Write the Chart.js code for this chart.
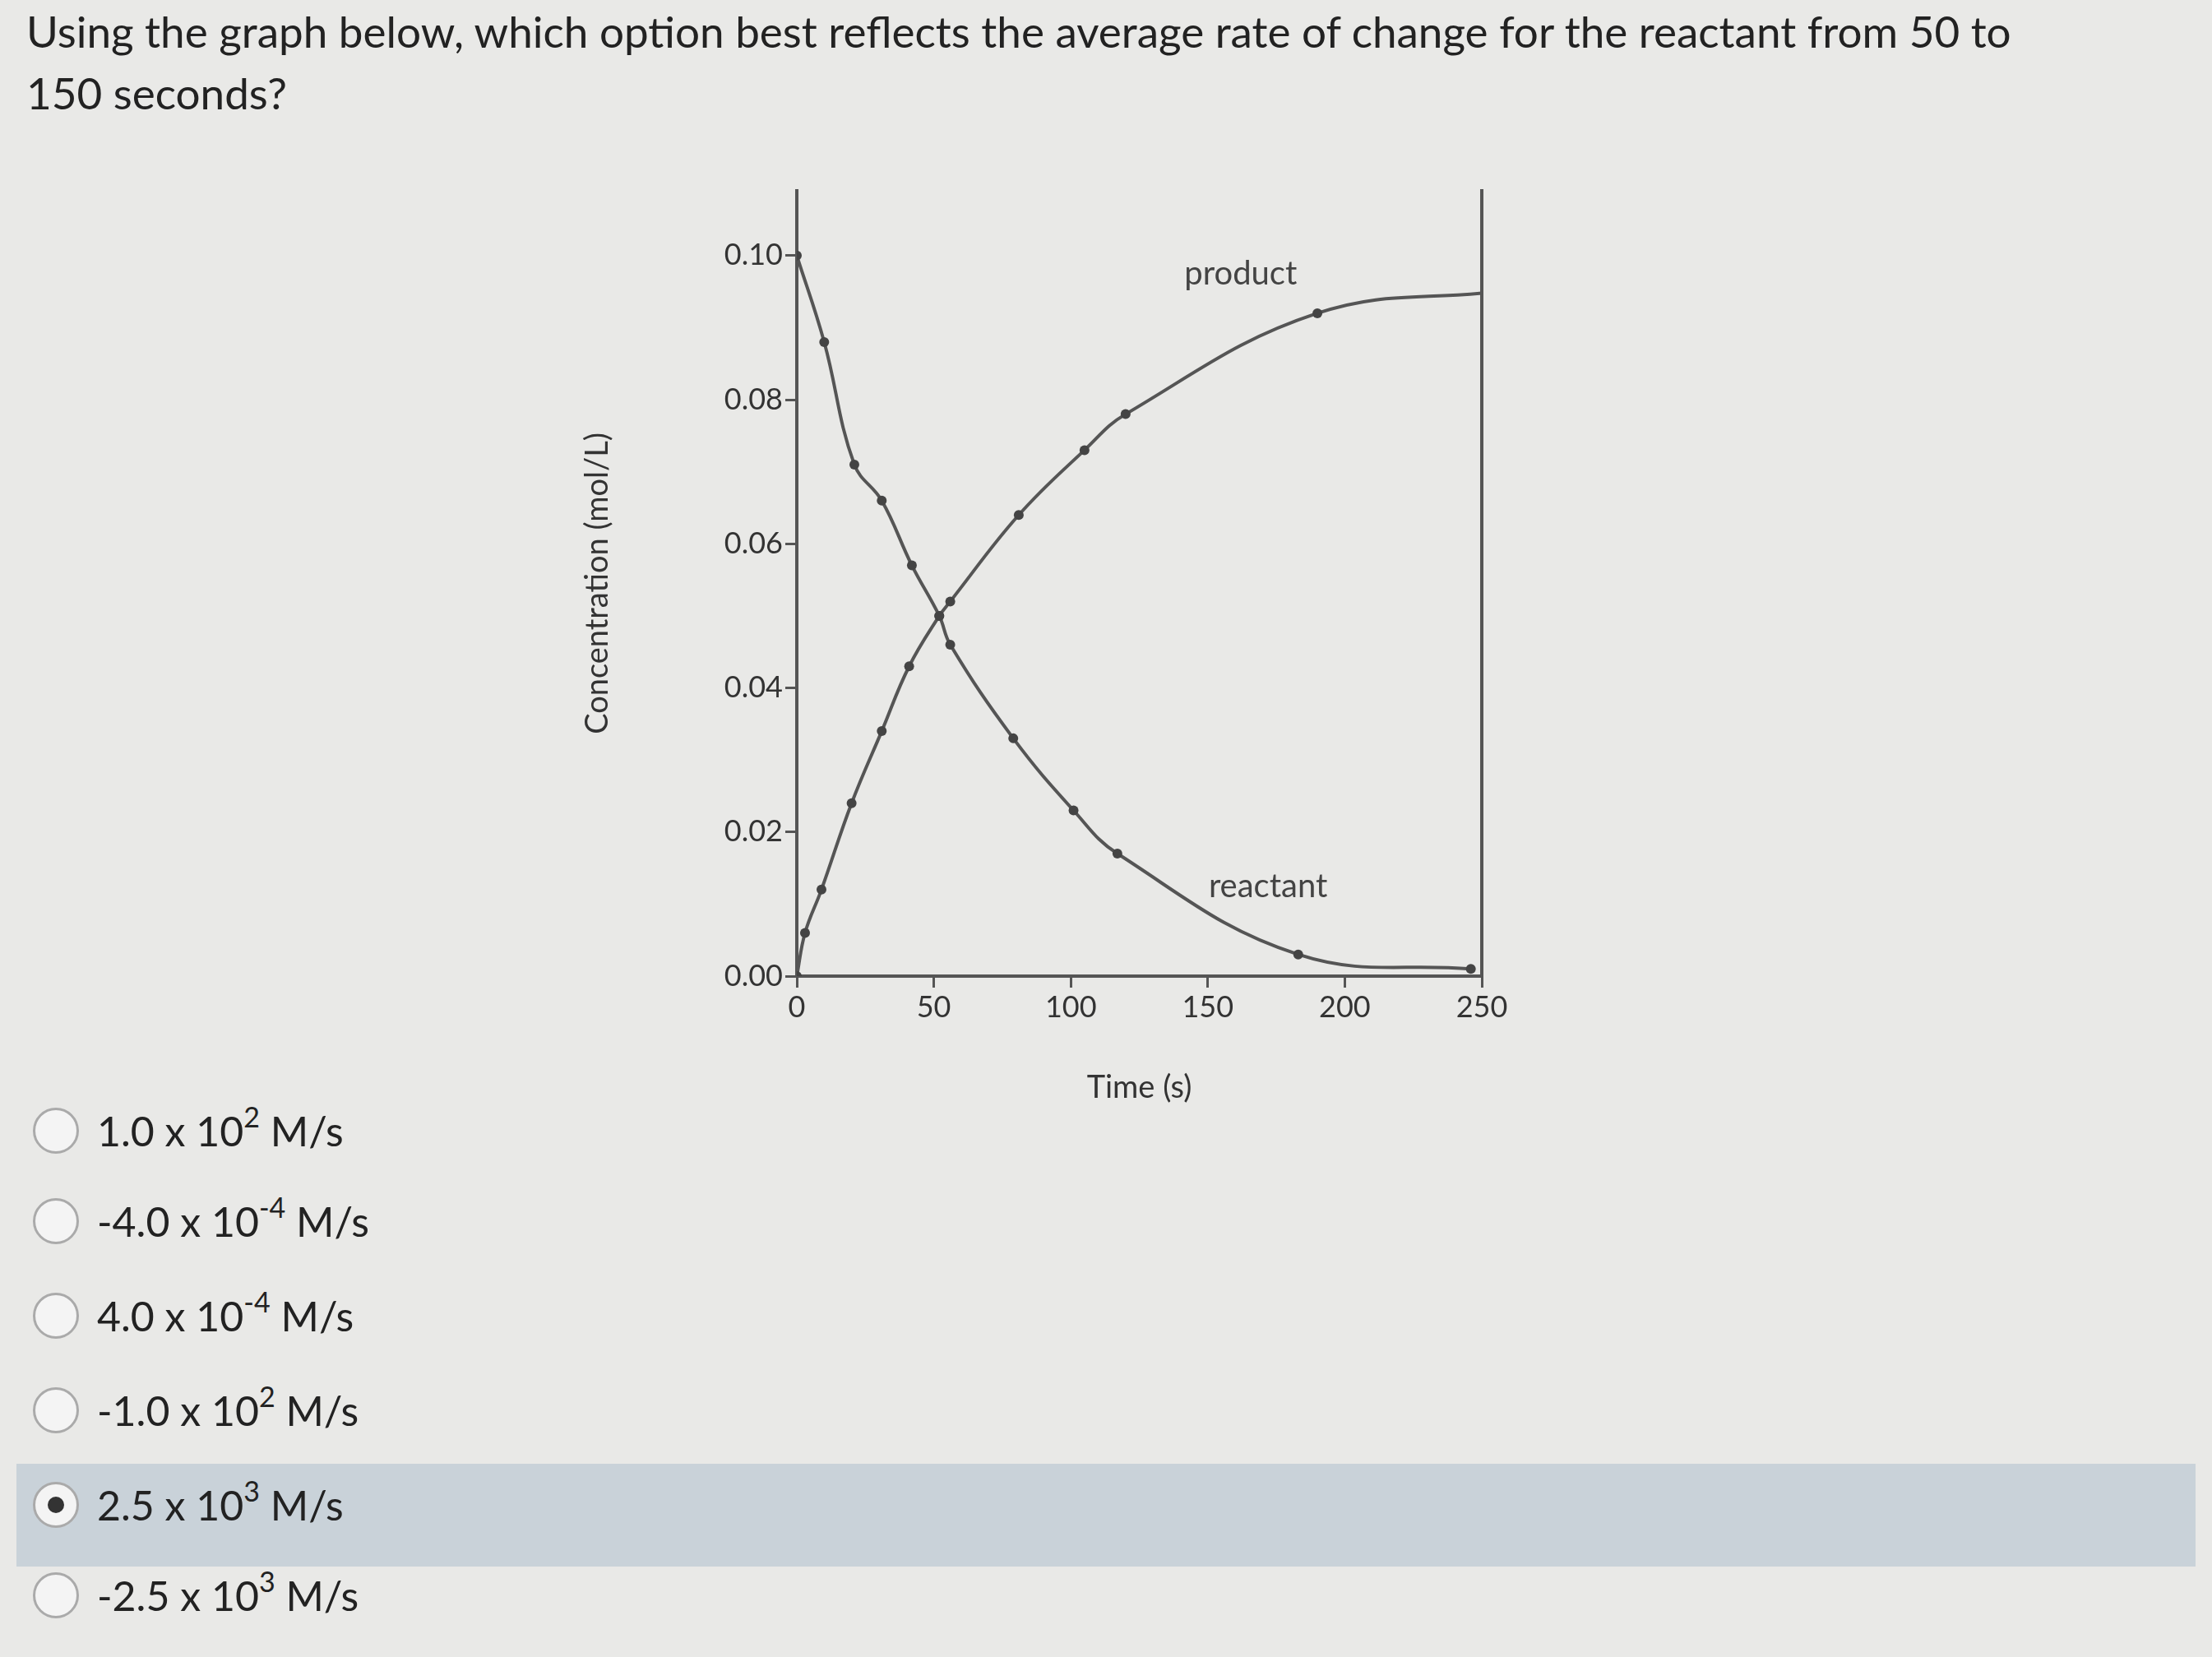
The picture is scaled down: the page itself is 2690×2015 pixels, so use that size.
<!DOCTYPE html>
<html><head><meta charset="utf-8">
<script src="https://cdn.jsdelivr.net/npm/chart.js@4/dist/chart.umd.min.js"></script>
<style>
body{margin:0;width:2690px;height:2015px;background:#e9e9e7;font-family:Lato,"Open Sans",sans-serif;position:relative;overflow:hidden;color:#222}
#q{position:absolute;left:32px;top:0px;font-size:53px;line-height:75px;width:2640px}
#wrap{position:absolute;left:700px;top:150px;width:1150px;height:1200px}
.opt{position:absolute;left:40px;font-size:50px;display:flex;align-items:center}
.opt span.r{width:56px;height:56px;border:3px solid #aaa;border-radius:50%;background:#f4f4f4;margin-right:22px;box-sizing:border-box;display:inline-block;position:relative}
.sel span.r::after{content:"";position:absolute;left:15px;top:15px;width:20px;height:20px;border-radius:50%;background:#333}
.sp{font-size:34px;position:relative;top:-18px}
#band{position:absolute;left:20px;top:1780px;width:2650px;height:125px;background:#c9d2d9}
</style></head><body>
<div id="q">Using the graph below, which option best reflects the average rate of change for the reactant from 50 to<br>150 seconds?</div>
<div id="band"></div>
<div class="opt" style="top:1345px"><span class="r"></span>1.0 x 10<span class="sp">2</span>&nbsp;M/s</div>
<div class="opt" style="top:1455px"><span class="r"></span>-4.0 x 10<span class="sp">-4</span>&nbsp;M/s</div>
<div class="opt" style="top:1570px"><span class="r"></span>4.0 x 10<span class="sp">-4</span>&nbsp;M/s</div>
<div class="opt" style="top:1685px"><span class="r"></span>-1.0 x 10<span class="sp">2</span>&nbsp;M/s</div>
<div class="opt sel" style="top:1800px"><span class="r"></span>2.5 x 10<span class="sp">3</span>&nbsp;M/s</div>
<div class="opt" style="top:1910px"><span class="r"></span>-2.5 x 10<span class="sp">3</span>&nbsp;M/s</div>
<div id="wrap"><canvas id="c" width="1150" height="1200"></canvas></div>
<script>
const times=[0,10,21,31,42,52,56,79,101,117,183,246];
const reactant=[0.100,0.088,0.071,0.066,0.057,0.050,0.046,0.033,0.023,0.017,0.003,0.001];
const productTimes=[0,3,9,20,31,41,52,56,81,105,120,190,255];
const product=[0,0.006,0.012,0.024,0.034,0.043,0.050,0.052,0.064,0.073,0.078,0.092,0.095];
const xTicks=[0,50,100,150,200,250];
const yTicks=[0,0.02,0.04,0.06,0.08,0.10];
const labelPlugin={id:'lbl',afterDatasetsDraw(ch){const c=ch.ctx,x=ch.scales.x,y=ch.scales.y;c.save();c.font='40px Lato';c.fillStyle='#444';c.textAlign='center';
c.fillText('product',x.getPixelForValue(162),y.getPixelForValue(0.096));c.fillText('reactant',x.getPixelForValue(172),y.getPixelForValue(0.011));c.restore();}};
new Chart(document.getElementById('c'),{type:'scatter',
data:{datasets:[
{data:times.map((t,i)=>({x:t,y:reactant[i]})),showLine:true,tension:0.4,borderColor:'#555',borderWidth:4,pointRadius:6,pointBackgroundColor:'#444',pointBorderWidth:0},
{data:productTimes.map((t,i)=>({x:t,y:product[i]})),showLine:true,tension:0.4,borderColor:'#555',borderWidth:4,pointRadius:6,pointBackgroundColor:'#444',pointBorderWidth:0}]},
options:{responsive:false,animation:false,devicePixelRatio:1,layout:{padding:{top:82,right:38,left:0,bottom:0}},
plugins:{legend:{display:false},tooltip:{enabled:false}},
scales:{x:{type:'linear',min:0,max:250,afterFit:s=>{s.height=163},afterBuildTicks:s=>{s.ticks=xTicks.map(v=>({value:v}))},
border:{color:'#555',width:4},grid:{display:true,drawOnChartArea:false,color:'#555',lineWidth:3,tickLength:14},
ticks:{color:'#333',font:{size:36,family:'Lato'}},title:{display:true,text:'Time (s)',color:'#333',font:{size:38,family:'Lato'}}},
y:{min:0,max:0.109,afterFit:s=>{s.width=269},afterBuildTicks:s=>{s.ticks=yTicks.map(v=>({value:v}))},
border:{color:'#555',width:4},grid:{display:true,drawOnChartArea:false,color:'#555',lineWidth:3,tickLength:14},
ticks:{color:'#333',font:{size:36,family:'Lato'},callback:v=>v.toFixed(2)},title:{display:true,text:'Concentration (mol/L)',color:'#333',font:{size:38,family:'Lato'}}},
y2:{position:'right',min:0,max:0.109,afterFit:s=>{s.width=10},ticks:{display:false},grid:{drawOnChartArea:false,tickLength:0},border:{color:'#555',width:4}}}},
plugins:[labelPlugin]});
</script>
</body></html>
